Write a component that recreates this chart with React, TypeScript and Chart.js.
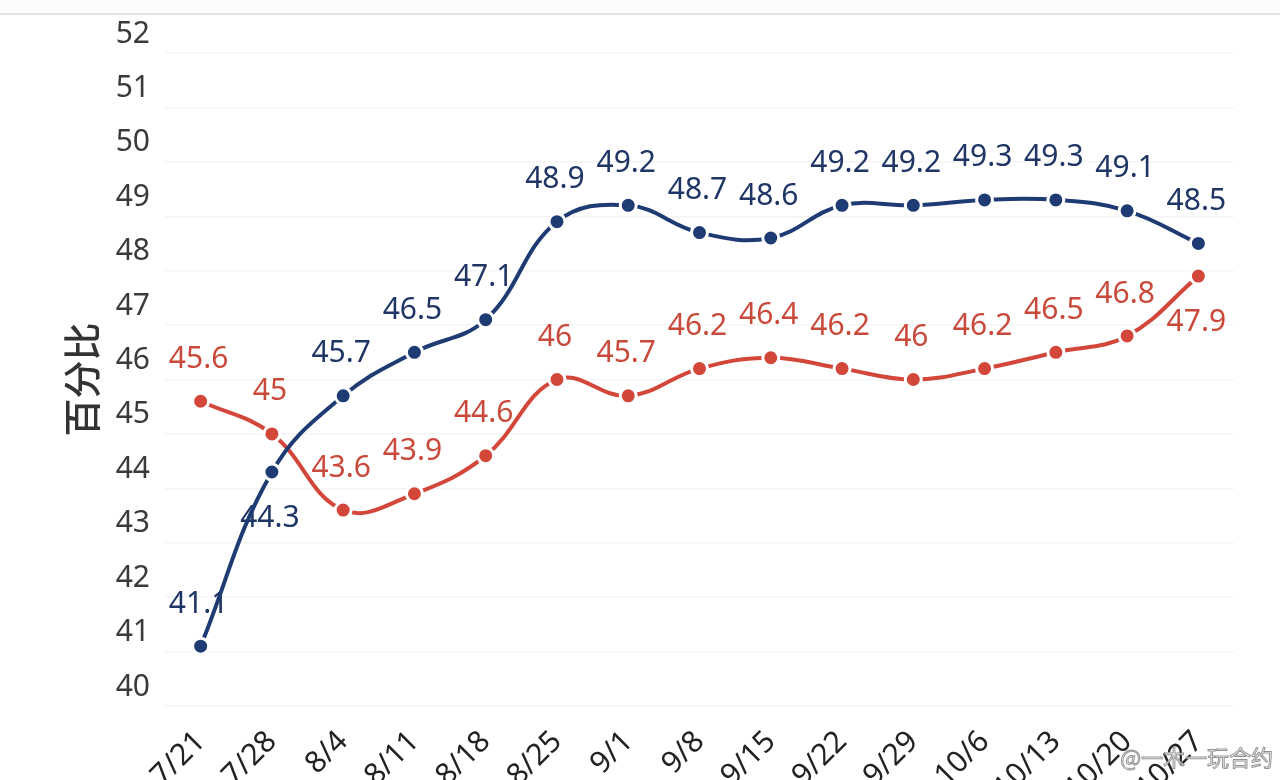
import { useEffect, useRef } from "react";
import { Chart, registerables } from "chart.js";

Chart.register(...registerables);

// Weekly readings
const weeks = ["7/21", "7/28", "8/4", "8/11", "8/18", "8/25", "9/1", "9/8", "9/15", "9/22", "9/29", "10/6", "10/13", "10/20", "10/27"];
const blueValues = [41.1, 44.3, 45.7, 46.5, 47.1, 48.9, 49.2, 48.7, 48.6, 49.2, 49.2, 49.3, 49.3, 49.1, 48.5];
const redValues = [45.6, 45, 43.6, 43.9, 44.6, 46, 45.7, 46.2, 46.4, 46.2, 46, 46.2, 46.5, 46.8, 47.9];
const yMin = 40;
const yMax = 52;
const yTitle = "百分比";
const watermark = "@一木一玩合约";

const BLUE = "#1f3b73";
const RED = "#d2473a";
const BLUE_TEXT = "#1e3566";
const RED_TEXT = "#c94a3b";

// Value labels sit above each point unless the point index is listed as "below".
const valueLabels = {
  id: "valueLabels",
  beforeDatasetsDraw(chart: any) {
    const ctx = chart.ctx;
    ctx.save();
    ctx.font = "30px 'Noto Sans'";
    ctx.textAlign = "center";
    ctx.textBaseline = "middle";
    chart.data.datasets.forEach((ds: any, di: number) => {
      const meta = chart.getDatasetMeta(di);
      ctx.fillStyle = ds.labelColor;
      meta.data.forEach((pt: any, i: number) => {
        const below = (ds.labelsBelow || []).includes(i);
        const y = below ? pt.y + 46 : pt.y - 42;
        ctx.fillText(String(ds.data[i]), pt.x - 2, y);
      });
    });
    ctx.restore();
  },
  afterDraw(chart: any) {
    const ctx = chart.ctx;
    ctx.save();
    ctx.font = "22px 'Noto Sans CJK SC'";
    ctx.textAlign = "right";
    ctx.textBaseline = "middle";
    ctx.lineWidth = 1;
    ctx.strokeStyle = "rgba(120,120,120,0.8)";
    ctx.fillStyle = "rgba(255,255,255,0.85)";
    ctx.fillText(watermark, 1273, 758);
    ctx.strokeText(watermark, 1273, 758);
    ctx.restore();
  },
};

export default function App() {
  const canvasRef = useRef<HTMLCanvasElement>(null);

  useEffect(() => {
    if (!canvasRef.current) return;
    const chart = new Chart(canvasRef.current, {
      type: "line",
      data: {
        labels: weeks,
        datasets: [
          {
            label: "blue",
            data: blueValues,
            borderColor: BLUE,
            backgroundColor: BLUE,
            borderWidth: 4,
            tension: 0.4,
            pointRadius: 8,
            pointBorderWidth: 3,
            pointBorderColor: "#ffffff",
            pointBackgroundColor: BLUE,
            labelColor: BLUE_TEXT,
            labelsBelow: [1],
          } as any,
          {
            label: "red",
            data: redValues,
            borderColor: RED,
            backgroundColor: RED,
            borderWidth: 4,
            tension: 0.4,
            pointRadius: 8,
            pointBorderWidth: 3,
            pointBorderColor: "#ffffff",
            pointBackgroundColor: RED,
            labelColor: RED_TEXT,
            labelsBelow: [14],
          } as any,
        ],
      },
      options: {
        animation: false,
        responsive: true,
        maintainAspectRatio: false,
        layout: { padding: { top: 53, left: 59, right: 46, bottom: 0 } },
        plugins: {
          legend: { display: false },
          tooltip: { enabled: false },
        },
        scales: {
          x: {
            offset: true,
            grid: { display: false, drawTicks: false },
            border: { display: false },
            // rotated labels may overhang into the y-axis column
            afterFit(scale: any) {
              scale.paddingLeft = 0;
              scale.paddingRight = 0;
              scale.height = 141;
            },
            ticks: {
              autoSkip: false,
              minRotation: 45,
              maxRotation: 45,
              padding: 18,
              color: "#222222",
              font: { family: "'Noto Sans'", size: 30 },
            },
          },
          y: {
            min: yMin,
            max: yMax,
            grid: { color: "rgba(0,0,0,0.045)", lineWidth: 1.5, drawTicks: false },
            border: { display: false },
            // fixed-width y-axis column: title, then right-aligned tick labels
            afterFit(scale: any) {
              scale.width = 106;
            },
            ticks: {
              stepSize: 1,
              padding: 15,
              labelOffset: -19,
              color: "#3a3a3a",
              font: { family: "'Noto Sans'", size: 30 },
            },
            title: {
              display: true,
              text: yTitle,
              color: "#333333",
              padding: { top: 0, bottom: 12 },
              font: { family: "'Noto Sans CJK SC'", size: 38, weight: "500" },
            },
          },
        },
      },
      plugins: [valueLabels],
    });
    return () => chart.destroy();
  }, []);

  return (
    <div style={{ position: "fixed", left: 0, top: 0, width: 1280, height: 780, overflow: "hidden", background: "#ffffff" }}>
      <div style={{ position: "absolute", left: 0, top: 0, width: 1280, height: 13, background: "#fbfbfb" }} />
      <div style={{ position: "absolute", left: 0, top: 13, width: 1280, height: 2, background: "#e2e2e2" }} />
      <div style={{ position: "absolute", left: 0, top: 0, width: 1280, height: 847 }}>
        <canvas ref={canvasRef} />
      </div>
    </div>
  );
}
